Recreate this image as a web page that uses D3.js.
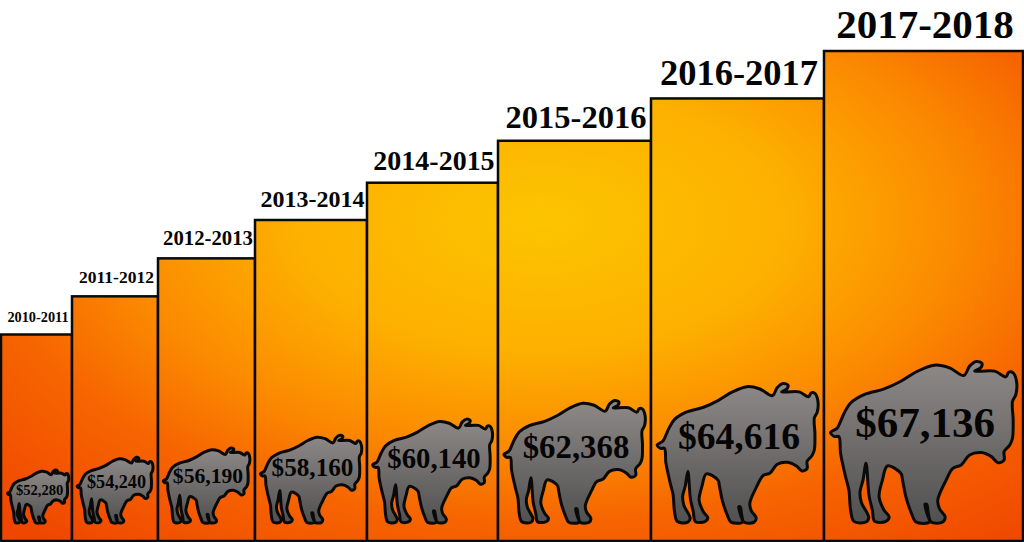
<!DOCTYPE html>
<html>
<head>
<meta charset="utf-8">
<script src="https://cdn.jsdelivr.net/npm/d3@7"></script>
<style>
    html, body { margin: 0; padding: 0; background: #fff; overflow: hidden; }
    svg { display: block; }
    text { font-family: "Liberation Serif", serif; font-weight: bold; fill: #050505; text-anchor: middle; }
</style>
</head>
<body>
<div id="chart"></div>
<script>
var years = ["2010-2011", "2011-2012", "2012-2013", "2013-2014", "2014-2015", "2015-2016", "2016-2017", "2017-2018"];
var salaries = [52280, 54240, 56190, 58160, 60140, 62368, 64616, 67136];

var width = 1024,
    height = 542,
    floor = 541;

var svg = d3.select("#chart")
    .append("svg")
    .attr("width", width)
    .attr("height", height);

// bars get wider as they go, so x is looked up by year
var xLeft = d3.scaleOrdinal().domain(years).range([1, 72, 158, 255, 367, 498, 651, 824]);
var xRight = d3.scaleOrdinal().domain(years).range([72, 158, 255, 367, 498, 651, 824, 1023]);

var y = d3.scaleLinear()
    .domain([52280, 58160, 67136])
    .range([334.5, 220, 51]);

// bison size follows the bar it stands in
var bisonWidth = d3.scaleLinear().domain([72, 200]).range([62, 187]);
var yearFont = d3.scaleLinear().domain([52280, 58160, 62368, 67136]).range([14.3, 24, 32.5, 41]);
var valueFont = d3.scaleLinear().domain([52280, 62368, 67136]).range([14.6, 32.8, 43]);
var labelShift = d3.scaleLinear().domain([72, 86, 200]).range([3, 1.5, 1.5]);

// outline traced off the biggest bison, 555 x 482 units
var bisonOutline = [
    [0, 212], [20, 199], [32, 174], [40, 156], [60, 124], [100, 99], [160, 82], [210, 59], [260, 29], [310, 11],
    [355, 19], [398, 42], [415, 14], [435, 0], [452, 6], [448, 19], [430, 29], [490, 29], [523, 46],
    [532, 32], [545, 34], [555, 59], [553, 99], [543, 119], [545, 174], [543, 229], [535, 249], [518, 269], [518, 294],
    [500, 302], [480, 284], [450, 272], [415, 279], [390, 309], [365, 319], [345, 354], [320, 414], [325, 439], [342, 464],
    [335, 479], [300, 479], [292, 454], [287, 426], [282, 426], [288, 454], [295, 479], [255, 479], [242, 454], [225, 404],
    [215, 354], [210, 334], [170, 312], [155, 354], [145, 404], [160, 444], [175, 464], [165, 477], [132, 477], [125, 444],
    [115, 400], [106, 304], [97, 354], [88, 390], [92, 420], [114, 466], [106, 479], [70, 477], [60, 444], [55, 384],
    [45, 344], [30, 274], [25, 224], [12, 224]
];
var bisonPath = d3.line().curve(d3.curveCatmullRomClosed.alpha(0.5))(bisonOutline);

var defs = svg.append("defs");

// one big glow shared by all the bars
defs.append("radialGradient")
    .attr("id", "glow")
    .attr("gradientUnits", "userSpaceOnUse")
    .attr("cx", 0).attr("cy", 0).attr("r", 1)
    .attr("gradientTransform", "translate(540,220) scale(770,418)")
    .selectAll("stop")
    .data([[0, "#fcc400"], [0.35, "#fdb000"], [0.6, "#fb8a00"], [0.8, "#f66400"], [1.1, "#f04600"]])
    .enter()
    .append("stop")
    .attr("offset", function (d) { return d[0] / 1.1; })
    .attr("stop-color", function (d) { return d[1]; });

var hide = defs.append("linearGradient")
    .attr("id", "hide")
    .attr("x1", 0).attr("y1", 0).attr("x2", 0).attr("y2", 1);
hide.append("stop").attr("offset", 0).attr("stop-color", "#8e8987");
hide.append("stop").attr("offset", 1).attr("stop-color", "#505050");

var rows = svg.selectAll(".bar")
    .data(d3.range(years.length))
    .enter()
    .append("g")
    .attr("class", "bar");

rows.append("rect")
    .attr("x", function (i) { return xLeft(years[i]); })
    .attr("y", function (i) { return y(salaries[i]); })
    .attr("width", function (i) { return xRight(years[i]) - xLeft(years[i]); })
    .attr("height", function (i) { return floor - y(salaries[i]); })
    .attr("fill", "url(#glow)")
    .attr("stroke", "#0a0a0a")
    .attr("stroke-width", 2.5);

function barMid(i) { return (xLeft(years[i]) + xRight(years[i])) / 2; }
function barWide(i) { return xRight(years[i]) - xLeft(years[i]); }
function bisonScale(i) { return bisonWidth(barWide(i)) / 555; }

rows.append("path")
    .attr("d", bisonPath)
    .attr("transform", function (i) {
        var s = bisonScale(i);
        return "translate(" + (barMid(i) + labelShift(barWide(i)) - 1.5 - 555 * s / 2) + "," + (523 - 482 * s) + ") scale(" + s + ")";
    })
    .attr("fill", "url(#hide)")
    .attr("stroke", "#0a0a0a")
    .attr("stroke-linejoin", "round")
    .attr("vector-effect", "non-scaling-stroke")
    .attr("stroke-width", 3);

rows.append("text")
    .attr("x", function (i) { return barMid(i) + labelShift(barWide(i)); })
    .attr("y", function (i) { return 523 - 482 * bisonScale(i) * 0.53; })
    .style("font-size", function (i) { return valueFont(salaries[i]) + "px"; })
    .text(function (i) { return d3.format("$,")(salaries[i]); });

rows.append("text")
    .attr("x", function (i) { return barMid(i) + 1.5; })
    .attr("y", function (i) { return y(salaries[i]) - 13; })
    .style("font-size", function (i) { return yearFont(salaries[i]) + "px"; })
    .text(function (i) { return years[i]; });
</script>
</body>
</html>
